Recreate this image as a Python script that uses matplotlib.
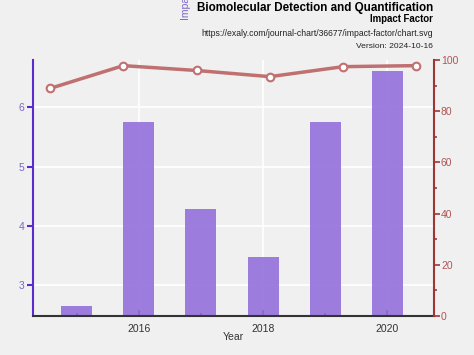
import matplotlib
matplotlib.use("Agg")
import matplotlib.pyplot as plt
from matplotlib.ticker import MultipleLocator

plt.rcParams['font.family'] = ['Liberation Sans', 'DejaVu Sans']

years = [2015, 2016, 2017, 2018, 2019, 2020]
impact_factor = [2.65, 5.75, 4.275, 3.478, 5.75, 6.62]
percentile = [88.9, 97.8, 95.9, 93.5, 97.4, 97.8]
xticks = [2016, 2018, 2020]
title = "Biomolecular Detection and Quantification"

W, H = 474, 355
fig = plt.figure(figsize=(W/100, H/100), dpi=100)
fig.patch.set_facecolor('#f0f0f0')

l, r, b, t = 32.5/W, 434/W, 1-316/H, 1-60/H
ax = fig.add_axes([l, b, r-l, t-b])
ax.set_facecolor('#f0f0f0')
ax.bar(years, impact_factor, width=0.5, color='#9370db', alpha=0.9, zorder=2)
ax.set_xlim(2014.29, 2020.75)
ax.set_ylim(2.476, 6.8)
ax.set_xticks(xticks)
ax.set_xticklabels([str(v) for v in xticks])
ax.xaxis.set_minor_locator(MultipleLocator(1))
ax.yaxis.set_major_locator(MultipleLocator(1))
ax.grid(True, color='white', linewidth=1.2, zorder=0)
ax.set_axisbelow(True)
ax.tick_params(axis='x', direction='in', length=4, width=1.2, color='#2a1060',
               labelsize=7.5, labelcolor='#333333', pad=6)
ax.tick_params(axis='x', which='minor', direction='in', length=2, width=1.2, color='#2a1060')
ax.tick_params(axis='y', direction='out', length=4, width=1.5, color='#5b2bd0',
               labelsize=7.5, labelcolor='#7a66c8', pad=2)
for s in ['top', 'right']:
    ax.spines[s].set_visible(False)
ax.spines['left'].set_color('#5b2bd0')
ax.spines['left'].set_linewidth(1.5)
ax.spines['bottom'].set_color('#333333')
ax.spines['bottom'].set_linewidth(1.5)
ax.set_xlabel('Year', fontsize=7.5, color='#333333', labelpad=-2)

ax2 = fig.add_axes([l, b, r-l, t-b])
ax2.patch.set_visible(False)
for s in ['top', 'left', 'bottom']:
    ax2.spines[s].set_visible(False)
ax2.plot(range(len(percentile)), percentile, color='#c07070', linewidth=2.5,
         marker='o', markersize=5.5, markerfacecolor='white',
         markeredgecolor='#c07070', markeredgewidth=1.5, zorder=5, clip_on=False)
ax2.set_xlim(-0.24, 5.24)
ax2.set_ylim(0, 100)
ax2.xaxis.set_visible(False)
ax2.yaxis.tick_right()
ax2.yaxis.set_major_locator(MultipleLocator(20))
ax2.yaxis.set_minor_locator(MultipleLocator(10))
ax2.tick_params(axis='y', which='both', direction='out', length=4, width=1.2, color='#a03535',
                labelsize=7.5, labelcolor='#b05555', pad=1, left=False, labelleft=False,
                right=True, labelright=True)
ax2.tick_params(axis='y', which='minor', length=2.5)
ax2.spines['right'].set_color('#a03535')
ax2.spines['right'].set_linewidth(1.5)

fig.text(186/W, 1-20/H, 'Impact Factor', rotation=90, ha='center', va='bottom',
         fontsize=7.5, color='#7a66c8')
fig.text(433/W, 1-8/H, title, ha='right', va='center', fontsize=8.4, fontweight='bold', color='black')
fig.text(433/W, 1-19.5/H, 'Impact Factor', ha='right', va='center', fontsize=6.9, fontweight='bold', color='black')
fig.text(433/W, 1-33/H, 'https://exaly.com/journal-chart/36677/impact-factor/chart.svg',
         ha='right', va='center', fontsize=6.2, color='#222222')
fig.text(433/W, 1-46/H, 'Version: 2024-10-16', ha='right', va='center', fontsize=6.1, color='#222222')

fig.savefig('out.png', dpi=100, facecolor=fig.get_facecolor())
